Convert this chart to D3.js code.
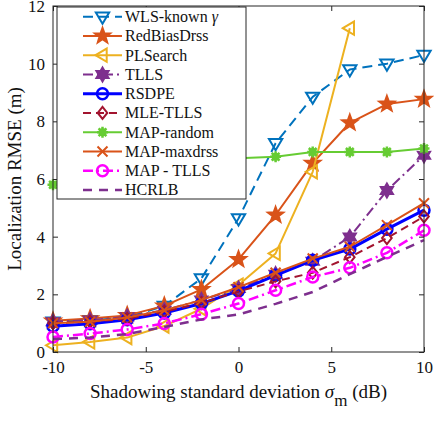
<!DOCTYPE html>
<html><head><meta charset="utf-8">
<script src="https://cdn.jsdelivr.net/npm/d3@7"></script>
<style>body{margin:0;background:#fff}svg{display:block}</style>
</head><body>
<svg id="c" width="434" height="442"></svg>
<script>
const xValues = [-10,-8,-6,-4,-2,0,2,4,6,8,10];
const seriesNames = ["WLS-known \u03b3","RedBiasDrss","PLSearch","TLLS","RSDPE","MLE-TLLS","MAP-random","MAP-maxdrss","MAP - TLLS","HCRLB"];
const wlsKnown   = [1.05,1.1,1.2,1.6,2.55,4.63,7.24,8.85,9.8,10.0,10.3];
const redBias    = [1.08,1.16,1.27,1.6,2.17,3.21,4.75,6.55,7.95,8.6,8.77];
const plSearch   = [0.23,0.35,0.5,0.9,1.5,2.32,3.42,6.25,11.23,null,null];
const tlls       = [1.05,1.1,1.22,1.45,1.8,2.2,2.7,3.15,3.99,5.6,6.82];
const rsdpe      = [0.89,0.98,1.12,1.35,1.68,2.12,2.66,3.18,3.57,4.26,4.92];
const mleTlls    = [1.0,1.05,1.15,1.4,1.7,2.1,2.45,2.75,3.29,3.95,4.7];
const mapRandom  = [5.8,6.2,6.4,6.55,6.65,6.72,6.77,6.94,6.94,6.94,7.06];
const mapMaxdrss = [1.0,1.05,1.2,1.45,1.8,2.25,2.75,3.24,3.65,4.4,5.16];
const mapTlls    = [0.52,0.64,0.78,0.99,1.31,1.68,2.14,2.6,2.92,3.44,4.22];
const hcrlb      = [0.45,0.5,0.62,0.87,1.13,1.3,1.67,2.08,2.7,3.3,3.88];
const xTicks = [-10,-5,0,5,10];
const yTicks = [0,2,4,6,8,10,12];

const series = [
  {name:seriesNames[0], v:wlsKnown,   color:"#0072BD", dash:"10,6",  lw:2, marker:"tridown", fill:false},
  {name:seriesNames[1], v:redBias,    color:"#D95319", dash:null,    lw:2, marker:"pentagram", fill:true},
  {name:seriesNames[2], v:plSearch,   color:"#EDB120", dash:null,    lw:2, marker:"trileft", fill:false},
  {name:seriesNames[3], v:tlls,       color:"#7E2F8E", dash:"10,4,2,4", lw:2, marker:"hexagram", fill:true},
  {name:seriesNames[4], v:rsdpe,      color:"#0000FF", dash:null,    lw:3, marker:"circle", fill:false},
  {name:seriesNames[5], v:mleTlls,    color:"#A2142F", dash:"8,5",   lw:2, marker:"diamond", fill:false},
  {name:seriesNames[6], v:mapRandom,  color:"#66CC33", dash:null,    lw:2, marker:"asterisk", fill:true},
  {name:seriesNames[7], v:mapMaxdrss, color:"#D95319", dash:null,    lw:2, marker:"x", fill:false},
  {name:seriesNames[8], v:mapTlls,    color:"#FF00FF", dash:"10,4,2,4", lw:2.5, marker:"circle", fill:false},
  {name:seriesNames[9], v:hcrlb,      color:"#7E2F8E", dash:"9,7",   lw:2.5, marker:null, fill:false}
];

// pick an installed Times-like serif font
function pickFont(){
  const cands = ["Liberation Serif","Tinos","Times New Roman","Nimbus Roman","Nimbus Roman No9 L","Times","FreeSerif","DejaVu Serif"];
  const ctx = document.createElement("canvas").getContext("2d");
  const sample = "RedBiasDrss Localization 0123456789";
  ctx.font = "40px monospace"; const wm = ctx.measureText(sample).width;
  ctx.font = "40px sans-serif"; const ws = ctx.measureText(sample).width;
  for(const c of cands){
    ctx.font = `40px "${c}", monospace`; const a = ctx.measureText(sample).width;
    ctx.font = `40px "${c}", sans-serif`; const b = ctx.measureText(sample).width;
    if(a!==wm || b!==ws) return `"${c}", serif`;
  }
  return "serif";
}
const font = pickFont();

const L=53, R=424, T=6, B=352;
const svg = d3.select("#c").style("font-family",font);
const x = d3.scaleLinear().domain([-10,10]).range([L,R]);
const y = d3.scaleLinear().domain([0,12]).range([B,T]);
const axisColor = "#262626";

function markerPath(type){
  const p = d3.path();
  if(type==="tridown"){const s=7; p.moveTo(0,s); p.lineTo(-s*0.95,-s*0.6); p.lineTo(s*0.95,-s*0.6); p.closePath(); return p.toString();}
  if(type==="trileft"){const s=7; p.moveTo(-s,0); p.lineTo(s*0.6,-s*0.95); p.lineTo(s*0.6,s*0.95); p.closePath(); return p.toString();}
  if(type==="diamond"){const s=6; p.moveTo(0,-s); p.lineTo(s*0.8,0); p.lineTo(0,s); p.lineTo(-s*0.8,0); p.closePath(); return p.toString();}
  if(type==="circle"){const r=5.5; p.arc(0,0,r,0,2*Math.PI); p.closePath(); return p.toString();}
  if(type==="pentagram"){return starPath(5,8,3.3,-Math.PI/2);}
  if(type==="hexagram"){return starPath(6,7,4,-Math.PI/2);}
  if(type==="x"){const s=5; return `M${-s},${-s}L${s},${s}M${-s},${s}L${s},${-s}`;}
  if(type==="asterisk"){const s=5.5; let d=""; for(let i=0;i<4;i++){const a=i*Math.PI/4; d+=`M${-s*Math.cos(a)},${-s*Math.sin(a)}L${s*Math.cos(a)},${s*Math.sin(a)}`;} return d;}
  return "";
}
function starPath(n,ro,ri,a0){
  const p=d3.path();
  for(let i=0;i<2*n;i++){const r=i%2?ri:ro; const a=a0+i*Math.PI/n; const px=r*Math.cos(a), py=r*Math.sin(a); if(i===0)p.moveTo(px,py); else p.lineTo(px,py);} p.closePath(); return p.toString();
}
function drawMarker(g, s, cx, cy){
  if(!s.marker) return;
  const m = g.append("g").attr("transform",`translate(${cx},${cy})`);
  if(s.marker==="asterisk"){
    m.append("circle").attr("r",4).attr("fill",s.color);
    m.append("path").attr("d",markerPath("asterisk")).attr("stroke",s.color).attr("stroke-width",2.5).attr("fill","none");
    return;
  }
  m.append("path").attr("d",markerPath(s.marker))
    .attr("fill", s.fill ? s.color : "none")
    .attr("stroke", s.color).attr("stroke-width", s.marker==="circle"?2.5:2)
    .attr("stroke-linejoin","miter");
}

svg.append("rect").attr("x",L).attr("y",T).attr("width",R-L).attr("height",B-T).attr("fill","#fff");

const plot = svg.append("g");
const line = d3.line().defined(d=>d[1]!=null).x(d=>x(d[0])).y(d=>y(d[1]));
series.forEach(s=>{
  const pts = xValues.map((xv,i)=>[xv,s.v[i]]);
  const g = plot.append("g");
  g.append("path").attr("d",line(pts)).attr("fill","none").attr("stroke",s.color)
    .attr("stroke-width",s.lw).attr("stroke-dasharray",s.dash).attr("stroke-linejoin","round");
  pts.filter(d=>d[1]!=null).forEach(d=>drawMarker(g,s,x(d[0]),y(d[1])));
});

const xAxisB = d3.axisBottom(x).tickValues(xTicks).tickSize(-5).tickPadding(9).tickFormat(d=>d<0?"-"+Math.abs(d):d);
const xAxisT = d3.axisTop(x).tickValues(xTicks).tickSize(-5).tickFormat("");
const yAxisL = d3.axisLeft(y).tickValues(yTicks).tickSize(-5).tickPadding(8).tickFormat(d=>d);
const yAxisR = d3.axisRight(y).tickValues(yTicks).tickSize(-5).tickFormat("");
function styleAxis(g){
  g.attr("font-family",null).attr("font-size",null);
  g.selectAll(".tick line").attr("stroke",axisColor);
  g.selectAll("text").attr("fill","#111").style("font-family",font).style("font-size","17px");
}
svg.append("g").attr("transform",`translate(0,${B})`).call(xAxisB).call(styleAxis);
svg.append("g").attr("transform",`translate(0,${T})`).call(xAxisT).call(styleAxis);
svg.append("g").attr("transform",`translate(${L},0)`).call(yAxisL).call(styleAxis);
svg.append("g").attr("transform",`translate(${R},0)`).call(yAxisR).call(styleAxis);
svg.selectAll(".domain").remove();
svg.append("rect").attr("x",L).attr("y",T).attr("width",R-L).attr("height",B-T).attr("fill","none").attr("stroke",axisColor).attr("stroke-width",1);

const xl = svg.append("text").attr("x",(L+R)/2).attr("y",398).attr("text-anchor","middle")
  .style("font-family",font).style("font-size","19px").attr("fill","#111");
xl.append("tspan").text("Shadowing standard deviation ");
xl.append("tspan").text("\u03c3").style("font-style","italic");
xl.append("tspan").text("m").attr("dy",8).style("font-size","17px");
xl.append("tspan").text(" (dB)").attr("dy",-8);
svg.append("text").attr("transform",`translate(21,179) rotate(-90)`).attr("text-anchor","middle")
  .style("font-family",font).style("font-size","19px").attr("fill","#111").text("Localization RMSE (m)");

const lg = svg.append("g");
lg.append("rect").attr("x",57).attr("y",7).attr("width",189).attr("height",192).attr("fill","#fff").attr("stroke",axisColor).attr("stroke-width",1);
series.forEach((s,i)=>{
  const cy = 16.7 + i*19.25;
  const g = lg.append("g");
  g.append("line").attr("x1",83).attr("x2",122).attr("y1",cy).attr("y2",cy).attr("stroke",s.color)
    .attr("stroke-width",s.lw).attr("stroke-dasharray",s.dash);
  drawMarker(g,s,102.5,cy);
  const t = g.append("text").attr("x",125).attr("y",cy+5.5).style("font-family",font).style("font-size","16px").attr("fill","#111");
  if(i===0){ t.append("tspan").text("WLS-known "); t.append("tspan").text("\u03b3").style("font-style","italic"); }
  else t.text(s.name);
});
</script>
</body></html>
